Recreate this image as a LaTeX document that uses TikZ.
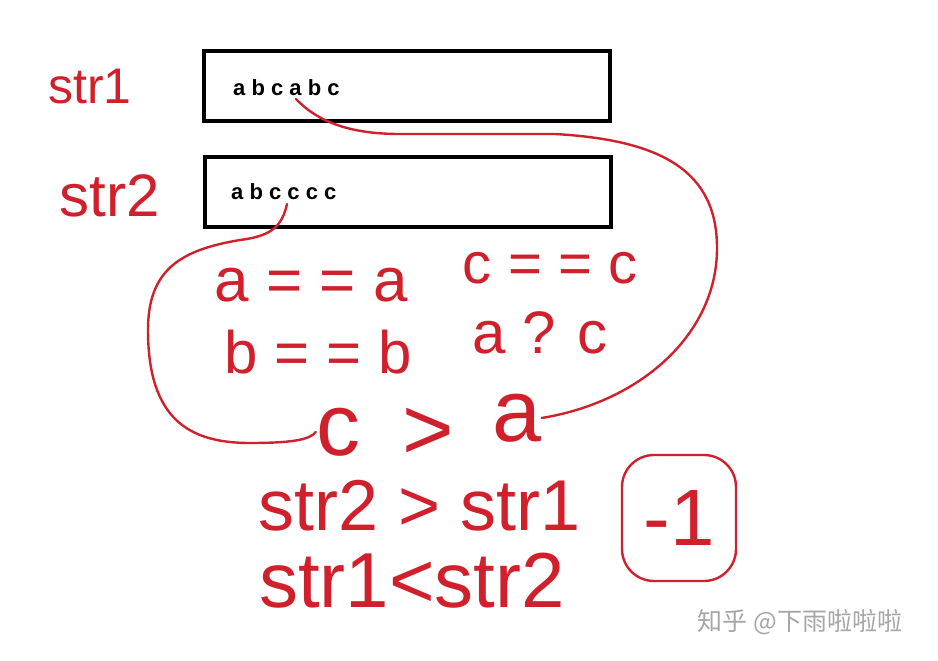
\documentclass[tikz,border=0pt]{standalone}
\usepackage{fontspec}
\setmainfont{Liberation Sans}
\newfontfamily\cjkfont{Noto Sans CJK SC}
\definecolor{pen}{RGB}{208,32,44}
\begin{document}
\begin{tikzpicture}[x=1pt,y=-1pt,
  strbox/.style={draw, line width=3.2pt, minimum width=406pt, minimum height=70pt, inner sep=0pt},
  boxtxt/.style={font=\bfseries\fontsize{22}{22}\selectfont, anchor=west, inner sep=0pt},
  hand/.style={text=pen, inner sep=0pt, text depth=0pt},
  loop/.style={draw=pen, line width=2.4pt, line cap=round}]
\useasboundingbox (0,0) rectangle (938,661);
% the two strings
\node[strbox] (box1) at (407,86) {};
\node[strbox] (box2) at (408,192) {};
\node[boxtxt] (txt1) at (233,88) {a b c a b c};
\node[boxtxt] (txt2) at (231,192) {a b c c c c};
\node[hand, font=\fontsize{50}{50}\selectfont] (lab1) at (90,86) {str1};
\node[hand, font=\fontsize{60}{60}\selectfont] (lab2) at (110,196) {str2};
\coordinate (st1) at (296,99);
\coordinate (st2) at (287,204);
% comparisons
\node[hand, font=\fontsize{62}{62}\selectfont] (eqa) at (311,285) {a = = a};
\node[hand, font=\fontsize{60}{60}\selectfont] (eqb) at (318,352) {b = = b};
\node[hand, font=\fontsize{58}{58}\selectfont] (eqc) at (550,268) {c = = c};
\node[hand, font=\fontsize{60}{60}\selectfont] (qac) at (540,333) {a ? c};
\node[hand, font=\fontsize{88}{88}\selectfont] (lc) at (338,432) {c};
\node[hand, font=\fontsize{88}{88}\selectfont] (gt) at (428,434) {>};
\node[hand, font=\fontsize{88}{88}\selectfont] (ra) at (517,418) {a};
\node[hand, font=\fontsize{72}{72}\selectfont] (res1) at (420,505) {str2 > str1};
\node[hand, font=\fontsize{78}{78}\selectfont] (res2) at (412,580) {str1<str2};
\node[hand, draw=pen, line width=2.4pt, rounded corners=32pt, minimum width=114pt, minimum height=126pt,
  font=\fontsize{80}{80}\selectfont] (ret) at (679,518) {-1};
% connecting loops
\draw[loop] (st1) .. controls (318,122) and (350,134) .. (400,134) -- (555,134)
  .. controls (660,140) and (718,170) .. (717,250)
  .. controls (716,335) and (640,402) .. (ra.east);
\draw[loop] (st2) .. controls (282,226) and (272,236) .. (240,240)
  .. controls (180,250) and (148,270) .. (148,330)
  .. controls (148,420) and (190,443) .. (250,443)
  .. controls (290,443) and (310,440) .. (lc.west);
\node[text=black!35, font=\cjkfont\fontsize{25}{25}\selectfont, inner sep=0pt] (wm) at (800,622) {知乎 @下雨啦啦啦};
\end{tikzpicture}
\end{document}
